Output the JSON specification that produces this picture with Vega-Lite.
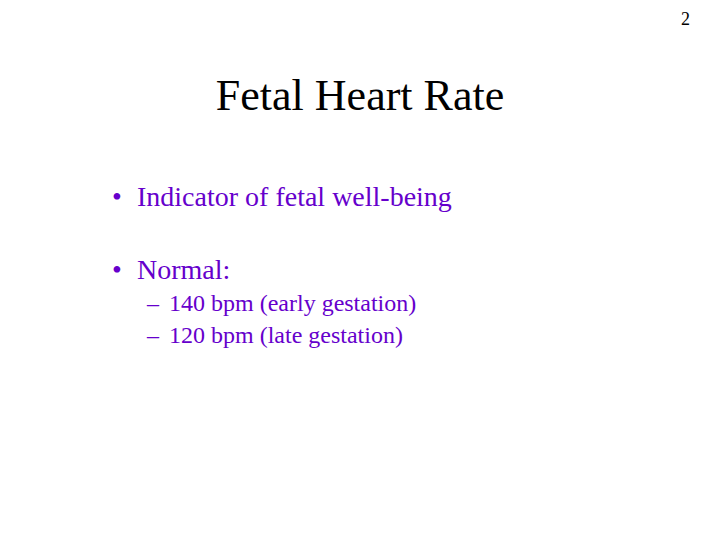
{
  "$schema": "https://vega.github.io/schema/vega-lite/v6.json",
  "description": "Slide: Fetal Heart Rate",
  "width": 720,
  "height": 540,
  "autosize": {"type": "fit", "contains": "padding"},
  "padding": 0,
  "background": "white",
  "data": {
    "values": [
      {"role": "page", "text": "2", "col": 690, "baseline": 25},
      {"role": "title", "text": "Fetal Heart Rate", "col": 360, "baseline": 110},
      {"role": "bulletmark", "text": "•", "col": 112, "baseline": 206},
      {"role": "bullet", "text": "Indicator of fetal well-being", "col": 137, "baseline": 206},
      {"role": "bulletmark", "text": "•", "col": 112, "baseline": 279},
      {"role": "bullet", "text": "Normal:", "col": 137, "baseline": 279},
      {"role": "submark", "text": "–", "col": 147, "baseline": 311},
      {"role": "sub", "text": "140 bpm (early gestation)", "col": 169, "baseline": 311},
      {"role": "submark", "text": "–", "col": 147, "baseline": 343},
      {"role": "sub", "text": "120 bpm (late gestation)", "col": 169, "baseline": 343}
    ]
  },
  "encoding": {
    "x": {"field": "col", "type": "quantitative", "scale": {"domain": [0, 720], "nice": false, "zero": false}, "axis": null},
    "y": {"field": "baseline", "type": "quantitative", "scale": {"domain": [0, 540], "nice": false, "zero": false, "reverse": true}, "axis": null},
    "text": {"field": "text"}
  },
  "layer": [
    {
      "transform": [{"filter": "datum.role == 'page'"}],
      "mark": {"type": "text", "align": "right", "baseline": "alphabetic", "font": "Liberation Serif", "fontSize": 18, "color": "black"}
    },
    {
      "transform": [{"filter": "datum.role == 'title'"}],
      "mark": {"type": "text", "align": "center", "baseline": "alphabetic", "font": "Liberation Serif", "fontSize": 44, "color": "black"}
    },
    {
      "transform": [{"filter": "datum.role == 'bullet' || datum.role == 'bulletmark'"}],
      "mark": {"type": "text", "align": "left", "baseline": "alphabetic", "font": "Liberation Serif", "fontSize": 28, "color": "#6600CC"}
    },
    {
      "transform": [{"filter": "datum.role == 'sub' || datum.role == 'submark'"}],
      "mark": {"type": "text", "align": "left", "baseline": "alphabetic", "font": "Liberation Serif", "fontSize": 24, "color": "#6600CC"}
    }
  ],
  "config": {"view": {"stroke": null}}
}
